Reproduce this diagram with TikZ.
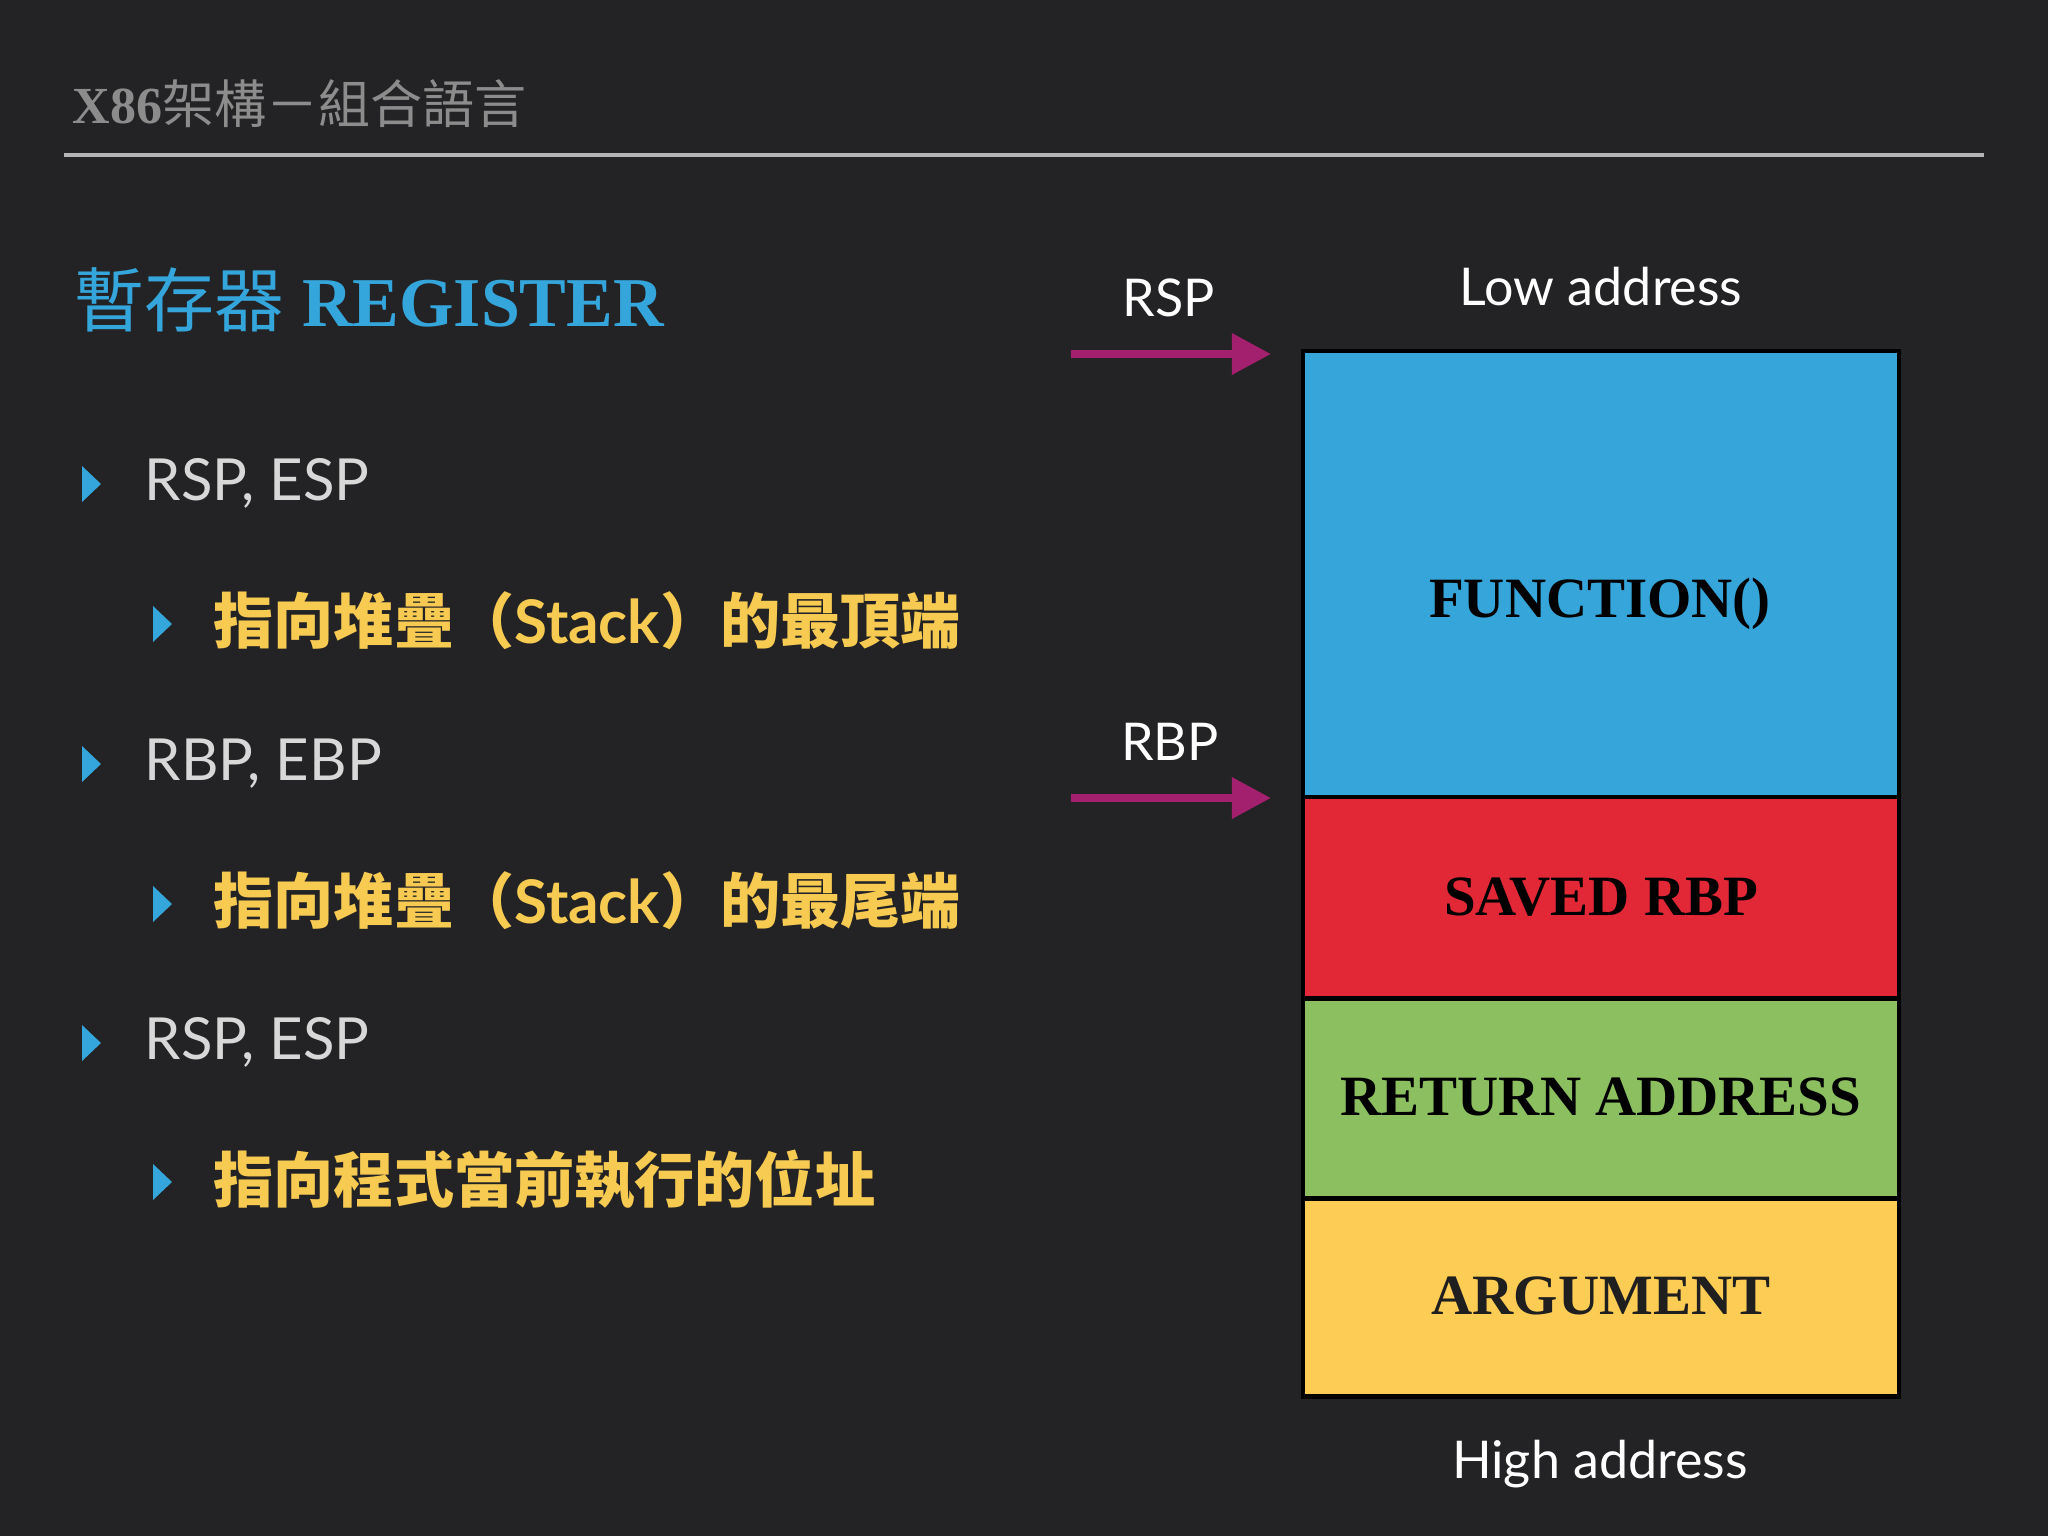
\documentclass[tikz,border=0pt]{standalone}
\usepackage{fontspec}
\setmainfont{Liberation Serif}
\newfontfamily\cjk{Noto Sans CJK TC}
\newfontfamily\avsans{Lato}
\usetikzlibrary{arrows.meta,calc}
\definecolor{bg}{HTML}{232325}
\definecolor{titlegray}{HTML}{8C8C8C}
\definecolor{rulegray}{HTML}{B4B4B4}
\definecolor{accblue}{HTML}{35A6DC}
\definecolor{bulletgray}{HTML}{D8D8D8}
\definecolor{subyellow}{HTML}{F7CA52}
\definecolor{cblue}{HTML}{35A5DA}
\definecolor{cred}{HTML}{E22836}
\definecolor{cgreen}{HTML}{8BBF5F}
\definecolor{cyellow}{HTML}{FDCC55}
\definecolor{ptrmag}{HTML}{A3206F}
\tikzset{
  cell/.style={draw=black, line width=1.3pt, minimum width=5.96cm, inner sep=0pt, outer sep=0pt},
  celltext/.style={inner sep=0pt, font=\fontsize{16.2pt}{18pt}\selectfont\bfseries},
  lbl/.style={text=white, inner sep=0pt, font=\avsans\fontsize{14.8pt}{16pt}\selectfont},
  item/.style={anchor=west, inner sep=0pt, text=bulletgray, font=\avsans\fontsize{16.5pt}{18pt}\selectfont},
  subitem/.style={anchor=west, inner sep=0pt, text=subyellow, font=\cjk\bfseries\fontsize{17.1pt}{19pt}\selectfont},
  ptr/.style={draw=ptrmag, line width=2pt, -{Triangle[length=0.39cm,width=0.40cm]}, shorten >=0.32cm},
  bullet/.style={fill=accblue}
}
\newcommand{\stk}{{\avsans\bfseries Stack}}
\begin{document}
\begin{tikzpicture}[x=0.01cm,y=-0.01cm]
\fill[bg] (0,0) rectangle (2048,1536);
\useasboundingbox (0,0) rectangle (2048,1536);

% title
\node[anchor=west, inner sep=0pt, text=titlegray] (title) at (72,104)
  {\fontsize{14.8pt}{16pt}\selectfont\textbf{X86}{\cjk 架構－組合語言}};
\draw[rulegray, line width=0.9pt] (64,155) -- (1984,155);

% heading
\node[anchor=west, inner sep=0pt, text=accblue] (heading) at (74,300)
  {\fontsize{19.9pt}{22pt}\selectfont{\cjk 暫存器} \textbf{REGISTER}};

% bullets
\fill[bullet] (82,466) -- (101,484) -- (82,502) -- cycle;
\node[item] (i1) at (144,483) {RSP, ESP};
\fill[bullet] (153,606) -- (172,624) -- (153,642) -- cycle;
\node[subitem] (s1) at (213,621) {指向堆疊（\stk）的最頂端};

\fill[bullet] (82,746) -- (101,764) -- (82,782) -- cycle;
\node[item] (i2) at (144,764) {RBP, EBP};
\fill[bullet] (153,886) -- (172,904) -- (153,922) -- cycle;
\node[subitem] (s2) at (213,901) {指向堆疊（\stk）的最尾端};

\fill[bullet] (82,1025) -- (101,1043) -- (82,1061) -- cycle;
\node[item] (i3) at (144,1042) {RSP, ESP};
\fill[bullet] (153,1164) -- (172,1182) -- (153,1200) -- cycle;
\node[subitem] (s3) at (213,1180) {指向程式當前執行的位址};

% stack
\node[cell, fill=cblue, minimum height=4.46cm] (fn) at (1601,574) {};
\node[cell, fill=cred, minimum height=2.01cm, anchor=north] (saved) at (fn.south) {};
\node[cell, fill=cgreen, minimum height=2.00cm, anchor=north] (ret) at (saved.south) {};
\node[cell, fill=cyellow, minimum height=1.98cm, anchor=north] (arg) at (ret.south) {};
\node[celltext] (fntxt) at (1600,604) {FUNCTION()};
\node[celltext] (savedtxt) at (1601,897) {SAVED RBP};
\node[celltext] (rettxt) at (1601,1097) {RETURN ADDRESS};
\node[celltext, text=black!88] (argtxt) at (1601,1296) {ARGUMENT};

% labels
\node[lbl] (low) at (1601,287) {Low address};
\node[lbl] (high) at (1600,1464) {High address};
\node[lbl] (rsp) at (1169,298) {RSP};
\node[lbl] (rbp) at (1170,742) {RBP};

% pointers
\coordinate (rspfrom) at (1071,354);
\coordinate (rbpfrom) at (1071,798);
\draw[ptr] (rspfrom) -- (rspfrom -| fn.west);
\draw[ptr] (rbpfrom) -- (rbpfrom -| fn.west);
\end{tikzpicture}
\end{document}
